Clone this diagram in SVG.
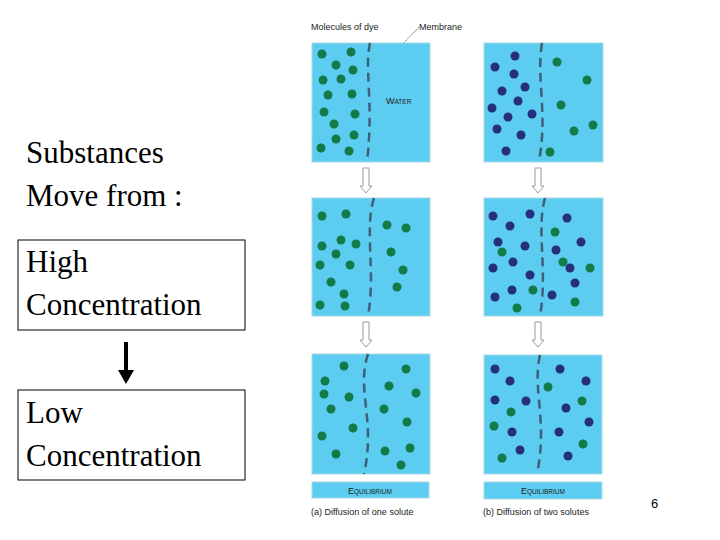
<svg xmlns="http://www.w3.org/2000/svg" width="720" height="540" viewBox="0 0 720 540">
<style>
.t{font-family:"Liberation Serif",serif;font-size:31px;fill:#000}
.s{font-family:"Liberation Sans",Arial,sans-serif;font-size:9px;fill:#222}
.p{fill:#5ccdf0;stroke:#a9d8e6;stroke-width:1}
.m{fill:none;stroke:#3f5f78;stroke-width:2.5;stroke-dasharray:9,6}
.g{fill:#137a4a}.b{fill:#26307a}
.ar{fill:#fff;stroke:#999;stroke-width:1}
</style>
<rect width="720" height="540" fill="#fff"/>
<g id="text-left">
<text class="t" x="26" y="163">Substances</text>
<text class="t" x="26" y="206">Move from :</text>
</g>
<g id="high"><rect x="18" y="240" width="227" height="90" fill="#fff" stroke="#000"/>
<text class="t" x="26" y="272">High</text><text class="t" x="26" y="315">Concentration</text></g>
<g id="low"><rect x="18" y="390" width="227" height="90" fill="#fff" stroke="#000"/>
<text class="t" x="26" y="423">Low</text><text class="t" x="26" y="466">Concentration</text></g>
<g id="connectors">
<line x1="126" y1="342" x2="126" y2="372" stroke="#000" stroke-width="4"/>
<polygon points="118,370 134,370 126,384" fill="#000"/>
<g class="ar"><path d="M363,168h6v18h3l-6,7l-6,-7h3z"/><path d="M535,168h6v18h3l-6,7l-6,-7h3z"/>
<path d="M363,322h6v18h3l-6,7l-6,-7h3z"/><path d="M535,322h6v18h3l-6,7l-6,-7h3z"/></g>
<path d="M333,45L336,60M337,45L352,63M338,45L323,55" stroke="#333" stroke-width="0.7" fill="none"/>
<path d="M419,27L368,80" stroke="#333" stroke-width="0.7" stroke-dasharray="2,1" fill="none"/>
</g>
<g id="labels"><text class="s" x="311" y="30">Molecules of dye</text><text class="s" x="419" y="30">Membrane</text></g>
<g id="panel-a1"><rect class="p" x="312" y="43" width="118" height="119"/>
<path class="m" d="M370,43C364,70 374,100 367,162"/>
<text class="s" x="386" y="104" font-size="8">W<tspan font-size="6.5">ATER</tspan></text>
<g class="g"><circle cx="322" cy="54" r="4.5"/><circle cx="351" cy="52" r="4.5"/><circle cx="336" cy="65" r="4.5"/><circle cx="353" cy="70" r="4.5"/><circle cx="323" cy="80" r="4.5"/><circle cx="341" cy="79" r="4.5"/><circle cx="328" cy="95" r="4.5"/><circle cx="352" cy="94" r="4.5"/><circle cx="324" cy="112" r="4.5"/><circle cx="355" cy="114" r="4.5"/><circle cx="334" cy="124" r="4.5"/><circle cx="336" cy="139" r="4.5"/><circle cx="354" cy="135" r="4.5"/><circle cx="321" cy="148" r="4.5"/><circle cx="349" cy="151" r="4.5"/></g></g>
<g id="panel-b1"><rect class="p" x="484" y="43" width="119" height="119"/>
<path class="m" d="M542,43C536,80 548,110 539,162"/>
<g class="b"><circle cx="515" cy="56" r="4.5"/><circle cx="495" cy="67" r="4.5"/><circle cx="514" cy="74" r="4.5"/><circle cx="502" cy="91" r="4.5"/><circle cx="525" cy="87" r="4.5"/><circle cx="518" cy="101" r="4.5"/><circle cx="492" cy="108" r="4.5"/><circle cx="508" cy="117" r="4.5"/><circle cx="532" cy="114" r="4.5"/><circle cx="497" cy="129" r="4.5"/><circle cx="521" cy="135" r="4.5"/><circle cx="506" cy="151" r="4.5"/></g>
<g class="g"><circle cx="557" cy="62" r="4.5"/><circle cx="587" cy="80" r="4.5"/><circle cx="561" cy="105" r="4.5"/><circle cx="593" cy="125" r="4.5"/><circle cx="574" cy="131" r="4.5"/><circle cx="550" cy="152" r="4.5"/></g></g>
<g id="panel-a2"><rect class="p" x="312" y="198" width="118" height="118"/>
<path class="m" d="M374,198C364,230 376,270 368,316"/>
<g class="g"><circle cx="322" cy="216" r="4.5"/><circle cx="346" cy="214" r="4.5"/><circle cx="341" cy="240" r="4.5"/><circle cx="356" cy="244" r="4.5"/><circle cx="322" cy="246" r="4.5"/><circle cx="336" cy="254" r="4.5"/><circle cx="320" cy="265" r="4.5"/><circle cx="350" cy="265" r="4.5"/><circle cx="331" cy="282" r="4.5"/><circle cx="344" cy="294" r="4.5"/><circle cx="320" cy="305" r="4.5"/><circle cx="345" cy="306" r="4.5"/><circle cx="387" cy="225" r="4.5"/><circle cx="406" cy="228" r="4.5"/><circle cx="391" cy="252" r="4.5"/><circle cx="403" cy="270" r="4.5"/><circle cx="397" cy="287" r="4.5"/></g></g>
<g id="panel-b2"><rect class="p" x="484" y="198" width="119" height="118"/>
<path class="m" d="M545,198C536,230 548,270 540,316"/>
<g class="b"><circle cx="493" cy="216" r="4.5"/><circle cx="510" cy="226" r="4.5"/><circle cx="530" cy="214" r="4.5"/><circle cx="498" cy="242" r="4.5"/><circle cx="525" cy="246" r="4.5"/><circle cx="513" cy="262" r="4.5"/><circle cx="493" cy="268" r="4.5"/><circle cx="530" cy="275" r="4.5"/><circle cx="495" cy="297" r="4.5"/><circle cx="512" cy="290" r="4.5"/><circle cx="567" cy="218" r="4.5"/><circle cx="581" cy="242" r="4.5"/><circle cx="556" cy="250" r="4.5"/><circle cx="575" cy="283" r="4.5"/><circle cx="552" cy="295" r="4.5"/><circle cx="570" cy="268" r="4.5"/></g>
<g class="g"><circle cx="502" cy="252" r="4.5"/><circle cx="555" cy="232" r="4.5"/><circle cx="590" cy="268" r="4.5"/><circle cx="533" cy="290" r="4.5"/><circle cx="575" cy="302" r="4.5"/><circle cx="517" cy="308" r="4.5"/><circle cx="563" cy="262" r="4.5"/></g></g>
<g id="panel-a3"><rect class="p" x="312" y="354" width="118" height="120"/>
<path class="m" d="M368,354C356,390 376,420 364,474"/>
<g class="g"><circle cx="344" cy="366" r="4.5"/><circle cx="325" cy="381" r="4.5"/><circle cx="324" cy="394" r="4.5"/><circle cx="349" cy="397" r="4.5"/><circle cx="331" cy="409" r="4.5"/><circle cx="406" cy="369" r="4.5"/><circle cx="389" cy="386" r="4.5"/><circle cx="416" cy="393" r="4.5"/><circle cx="384" cy="409" r="4.5"/><circle cx="407" cy="422" r="4.5"/><circle cx="353" cy="428" r="4.5"/><circle cx="322" cy="436" r="4.5"/><circle cx="336" cy="454" r="4.5"/><circle cx="385" cy="451" r="4.5"/><circle cx="410" cy="448" r="4.5"/><circle cx="401" cy="465" r="4.5"/></g></g>
<g id="panel-b3"><rect class="p" x="484" y="355" width="118" height="119"/>
<path class="m" d="M540,355C532,390 548,420 537,474"/>
<g class="b"><circle cx="495" cy="369" r="4.5"/><circle cx="510" cy="381" r="4.5"/><circle cx="560" cy="369" r="4.5"/><circle cx="586" cy="381" r="4.5"/><circle cx="495" cy="400" r="4.5"/><circle cx="526" cy="401" r="4.5"/><circle cx="566" cy="408" r="4.5"/><circle cx="589" cy="422" r="4.5"/><circle cx="512" cy="432" r="4.5"/><circle cx="559" cy="432" r="4.5"/><circle cx="520" cy="450" r="4.5"/><circle cx="568" cy="456" r="4.5"/></g>
<g class="g"><circle cx="548" cy="387" r="4.5"/><circle cx="582" cy="401" r="4.5"/><circle cx="511" cy="412" r="4.5"/><circle cx="494" cy="426" r="4.5"/><circle cx="583" cy="444" r="4.5"/><circle cx="502" cy="458" r="4.5"/></g></g>
<g id="eq-a"><rect class="p" x="312" y="482" width="117" height="16" stroke="#4a7a90"/>
<text class="s" x="370" y="494" text-anchor="middle" font-size="8">E<tspan font-size="6.5">QUILIBRIUM</tspan></text>
<text class="s" x="311" y="515" font-size="9.5">(a) Diffusion of one solute</text></g>
<g id="eq-b"><rect class="p" x="484" y="482" width="118" height="17" stroke="#4a7a90"/>
<text class="s" x="543" y="494" text-anchor="middle" font-size="8">E<tspan font-size="6.5">QUILIBRIUM</tspan></text>
<text class="s" x="483" y="515" font-size="9.5">(b) Diffusion of two solutes</text></g>
<text x="651" y="508" font-family="Liberation Sans,sans-serif" font-size="13">6</text>
</svg>
